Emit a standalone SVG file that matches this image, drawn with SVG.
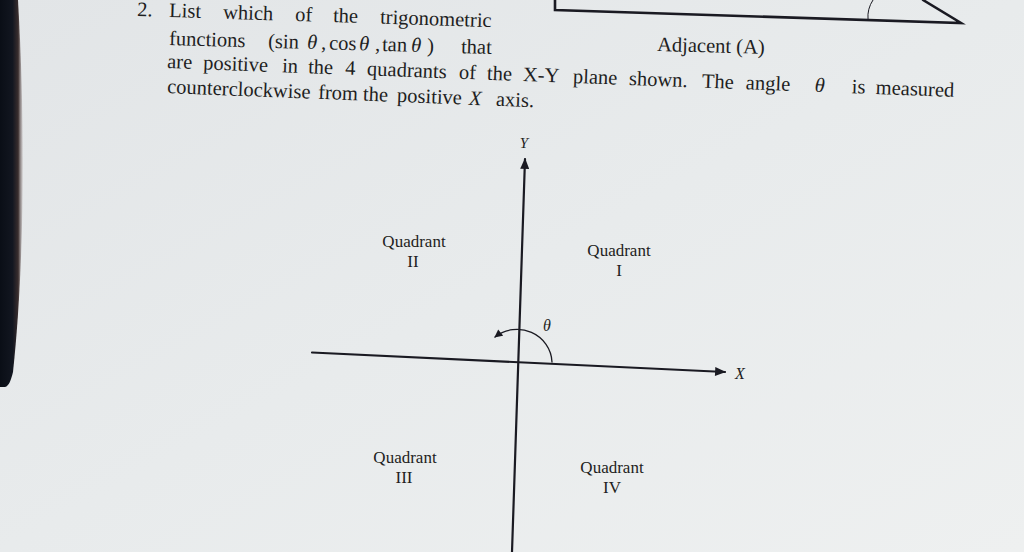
<svg xmlns="http://www.w3.org/2000/svg" width="1024" height="552" viewBox="0 0 1024 552">
  <defs>
    <linearGradient id="bg" x1="0" y1="0" x2="1" y2="1">
      <stop offset="0" stop-color="#e2e5e7"/>
      <stop offset="0.5" stop-color="#e8ebec"/>
      <stop offset="1" stop-color="#eef0f0"/>
    </linearGradient>
    <linearGradient id="edge" x1="0" y1="0" x2="1" y2="0">
      <stop offset="0" stop-color="#0a0e16"/>
      <stop offset="0.55" stop-color="#121620"/>
      <stop offset="0.8" stop-color="#3a2e2e"/>
      <stop offset="1" stop-color="#8a7a78" stop-opacity="0.25"/>
    </linearGradient>
    <marker id="arr" viewBox="0 0 10 10" refX="9" refY="5" markerWidth="9" markerHeight="8" markerUnits="userSpaceOnUse" orient="auto">
      <path d="M0,0 L10,5 L0,10 Z" fill="#1a1a22"/>
    </marker>
    <marker id="arrbig" viewBox="0 0 12 10" refX="11" refY="5" markerWidth="12" markerHeight="9" markerUnits="userSpaceOnUse" orient="auto">
      <path d="M0,0 L12,5 L0,10 Z" fill="#1a1a22"/>
    </marker>
  </defs>
  <style>
    .t { font-family: "Liberation Serif", "Times New Roman", serif; fill: #1e1e22; }
    .body { font-size: 20.5px; }
    .q { font-size: 17px; text-anchor: middle; }
    .it { font-style: italic; }
    .ln { stroke: #1a1a22; fill: none; stroke-linecap: round; }
  </style>

  <rect x="0" y="0" width="1024" height="552" fill="url(#bg)"/>
  <path d="M0,0 L18,0 C25,120 25,260 13,372 C11,380 9,386 5,387 L0,387 Z" fill="url(#edge)"/>

  <!-- question text -->
  <g id="question">
    <text class="t body" transform="rotate(1.8 170 17)">
      <tspan x="137" y="17">2.</tspan>
      <tspan x="169" y="17">List</tspan>
      <tspan x="223" y="17">which</tspan>
      <tspan x="295" y="17">of</tspan>
      <tspan x="333" y="17">the</tspan>
      <tspan x="380" y="17">trigonometric</tspan>
    </text>
    <text class="t body" transform="rotate(1.6 169 45)">
      <tspan x="169" y="45">functions</tspan>
      <tspan x="268" y="45">(sin</tspan>
      <tspan x="307" y="45" class="it">θ</tspan>
      <tspan x="321" y="45">,</tspan>
      <tspan x="329" y="45">cos</tspan>
      <tspan x="359" y="45" class="it">θ</tspan>
      <tspan x="375" y="45">,</tspan>
      <tspan x="382" y="45">tan</tspan>
      <tspan x="411" y="45" class="it">θ</tspan>
      <tspan x="427" y="45">)</tspan>
      <tspan x="461" y="45">that</tspan>
    </text>
    <text class="t body" transform="rotate(2.1 166 68)">
      <tspan x="167" y="68">are</tspan>
      <tspan x="203" y="68">positive</tspan>
      <tspan x="282" y="68">in</tspan>
      <tspan x="308" y="68">the</tspan>
      <tspan x="345" y="68">4</tspan>
      <tspan x="367" y="68">quadrants</tspan>
      <tspan x="459" y="68">of</tspan>
      <tspan x="487" y="68">the</tspan>
      <tspan x="523" y="68">X-Y</tspan>
      <tspan x="573" y="68">plane</tspan>
      <tspan x="629" y="68">shown.</tspan>
      <tspan x="702" y="68">The</tspan>
      <tspan x="746" y="68">angle</tspan>
      <tspan x="815" y="68" class="it">θ</tspan>
      <tspan x="852" y="68">is</tspan>
      <tspan x="876" y="68">measured</tspan>
    </text>
    <text class="t body" transform="rotate(2.2 166 93)">
      <tspan x="167" y="93">counterclockwise</tspan>
      <tspan x="318" y="93">from</tspan>
      <tspan x="363" y="93">the</tspan>
      <tspan x="397" y="93">positive</tspan>
      <tspan x="469" y="93" class="it">X</tspan>
      <tspan x="496" y="93">axis.</tspan>
    </text>
  </g>

  <!-- partial triangle at top -->
  <g id="triangle">
    <path class="ln" d="M555,0 L555,10 L961,23 L923,0" stroke-width="2.6" stroke-linejoin="miter"/>
    <path class="ln" d="M873,0 Q867,9 868,19" stroke-width="1"/>
    <text class="t" font-size="20.5" transform="rotate(1.5 657 51)" x="657" y="51">Adjacent (A)</text>
  </g>

  <!-- connectors: axes and angle arc -->
  <g id="connectors">
    <line class="ln" x1="512" y1="552" x2="525" y2="159" stroke-width="2.2" marker-end="url(#arrbig)"/>
    <line class="ln" x1="312" y1="352.5" x2="725" y2="372" stroke-width="2.2" marker-end="url(#arrbig)"/>
    <path class="ln" d="M552,362 A35,34 0 0 0 495,337" stroke-width="1.3" marker-end="url(#arr)"/>
  </g>

  <g id="axis-labels">
    <text class="t it" font-size="15" x="524" y="148" text-anchor="middle">Y</text>
    <text class="t it" font-size="16" x="740" y="379" text-anchor="middle">X</text>
    <text class="t it" font-size="16" x="547" y="331" text-anchor="middle">θ</text>
  </g>

  <g id="quadrant-2">
    <text class="t q" x="414" y="247">Quadrant</text>
    <text class="t q" x="413" y="267">II</text>
  </g>
  <g id="quadrant-1">
    <text class="t q" x="619" y="256">Quadrant</text>
    <text class="t q" x="619" y="276">I</text>
  </g>
  <g id="quadrant-3">
    <text class="t q" x="405" y="463">Quadrant</text>
    <text class="t q" x="404" y="483">III</text>
  </g>
  <g id="quadrant-4">
    <text class="t q" x="612" y="473">Quadrant</text>
    <text class="t q" x="612" y="493">IV</text>
  </g>
</svg>
